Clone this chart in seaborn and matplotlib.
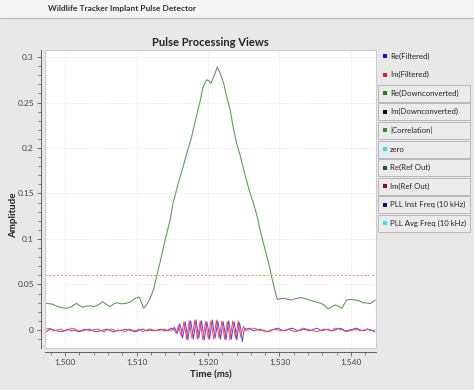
import numpy as np
import pandas as pd
import matplotlib.pyplot as plt
import matplotlib.patches as mpatches
from matplotlib.ticker import MultipleLocator, FuncFormatter
import seaborn as sns

# ---- data ----
# |Correlation| (green)
corr_t = [1497.4, 1498.2, 1499.0, 1499.6, 1500.2, 1500.9, 1501.6, 1502.0, 1502.5, 1503.0,
          1503.5, 1504.1, 1504.6, 1505.3, 1505.8, 1506.3, 1506.8, 1507.2, 1507.9, 1508.6,
          1509.2, 1509.8, 1510.4, 1511.0, 1511.5, 1511.9, 1512.4, 1512.8, 1513.4, 1514.0,
          1514.7, 1515.1, 1515.6, 1516.0, 1516.5, 1517.1, 1517.7, 1518.2, 1518.6, 1519.0,
          1519.3, 1519.8, 1520.1, 1520.4, 1520.9, 1521.3, 1521.7, 1522.2, 1522.6, 1523.1,
          1523.5, 1524.0, 1524.5, 1524.9, 1525.4, 1525.9, 1526.4, 1526.9, 1527.4, 1528.0,
          1528.5, 1528.9, 1529.3, 1529.7, 1530.2, 1530.8, 1531.2, 1531.7, 1532.3, 1532.9,
          1533.4, 1533.8, 1534.4, 1535.0, 1535.5, 1535.9, 1536.4, 1536.8, 1537.3, 1537.8,
          1538.3, 1538.7, 1539.1, 1539.4, 1540.0, 1540.6, 1541.2, 1541.7, 1542.2, 1542.7,
          1543.4]
corr_v = [0.0293, 0.0285, 0.0256, 0.0245, 0.0238, 0.0255, 0.0293, 0.0270, 0.0250, 0.0262,
          0.0264, 0.0258, 0.0275, 0.0310, 0.0280, 0.0256, 0.0285, 0.0300, 0.0288, 0.0293,
          0.0310, 0.0348, 0.0360, 0.0238, 0.0290, 0.0348, 0.0450, 0.0586, 0.0780, 0.0990,
          0.1210, 0.1390, 0.1540, 0.1660, 0.1790, 0.1960, 0.2120, 0.2290, 0.2420, 0.2550,
          0.2670, 0.2750, 0.2740, 0.2710, 0.2800, 0.2890, 0.2820, 0.2710, 0.2570, 0.2420,
          0.2240, 0.2050, 0.1920, 0.1790, 0.1640, 0.1500, 0.1380, 0.1240, 0.1060, 0.0880,
          0.0730, 0.0586, 0.0450, 0.0337, 0.0345, 0.0348, 0.0335, 0.0330, 0.0345, 0.0355,
          0.0350, 0.0340, 0.0325, 0.0310, 0.0300, 0.0290, 0.0265, 0.0230, 0.0255, 0.0275,
          0.0260, 0.0238, 0.0290, 0.0330, 0.0335, 0.0330, 0.0318, 0.0300, 0.0296, 0.0290,
          0.0330]
threshold = 0.06

# Re / Im of the filtered signal: quiet before, burst, quiet after
t_pre = np.arange(1497.4, 1515.0, 0.5)
t_pulse = np.arange(1515.1, 1525.4, 0.19)
t_post = np.arange(1525.8, 1543.6, 0.5)

re_pre = [-0.002, 0.001, 0.000, -0.001, -0.002, -0.001, 0.001, -0.001, 0.000, -0.002,
          -0.001, 0.000, 0.001, -0.001, -0.002, -0.001, 0.000, 0.001, -0.001, -0.002,
          0.000, -0.001, 0.001, 0.000, -0.001, -0.002, 0.000, 0.001, -0.001, 0.000,
          -0.001, 0.000, 0.001, -0.001, 0.000, 0.002]
im_pre = [0.001, 0.002, -0.001, 0.000, 0.001, -0.001, 0.000, 0.002, 0.001, -0.001,
          0.000, 0.001, -0.001, 0.000, 0.001, 0.000, -0.002, 0.000, 0.001, 0.000,
          -0.001, 0.000, -0.002, 0.001, 0.000, -0.001, 0.001, -0.002, 0.000, 0.001,
          0.000, -0.001, 0.000, 0.001, -0.001, 0.000]
re_pulse = [0.000, 0.003, 0.000, -0.004, 0.000, 0.007, 0.001, -0.009, -0.001, 0.009,
            0.000, -0.011, 0.000, 0.010, 0.001, -0.010, 0.000, 0.011, 0.000, -0.009,
            0.001, 0.010, 0.000, -0.011, -0.001, 0.009, 0.000, -0.010, 0.001, 0.011,
            0.000, -0.009, 0.000, 0.010, 0.001, -0.010, 0.000, 0.009, 0.000, -0.011,
            0.000, 0.010, 0.001, -0.010, 0.000, 0.009, 0.000, -0.011, 0.000, 0.008,
            0.000, -0.013, -0.003, 0.002, 0.001]
im_pulse = [0.002, 0.000, -0.003, 0.000, 0.005, 0.000, -0.007, 0.000, 0.009, 0.001,
            -0.010, 0.000, 0.010, 0.000, -0.009, 0.000, 0.011, 0.001, -0.010, 0.000,
            0.010, 0.000, -0.011, 0.000, 0.009, 0.000, -0.010, 0.001, 0.010, 0.000,
            -0.010, 0.000, 0.011, 0.000, -0.009, 0.000, 0.010, 0.001, -0.010, 0.000,
            0.009, 0.000, -0.011, 0.000, 0.010, 0.000, -0.009, 0.000, 0.010, 0.000,
            -0.008, 0.000, 0.004, -0.001, 0.000]
re_post = [0.002, -0.001, 0.000, 0.001, -0.001, -0.002, 0.000, 0.001, 0.002, 0.000,
           -0.001, 0.001, 0.002, 0.000, -0.001, 0.001, 0.000, -0.001, 0.001, 0.002,
           -0.001, 0.000, 0.001, -0.001, 0.000, 0.002, 0.001, -0.001, 0.000, 0.001,
           0.002, 0.000, -0.001, 0.001, 0.000, -0.002]
im_post = [0.000, 0.002, 0.001, -0.001, 0.000, -0.002, -0.001, 0.001, 0.000, -0.001,
           0.000, 0.001, -0.001, -0.002, 0.000, 0.002, 0.001, 0.000, -0.001, -0.002,
           0.000, 0.001, 0.000, -0.001, 0.002, 0.001, 0.000, -0.002, -0.001, 0.000,
           0.001, -0.001, 0.000, 0.001, -0.001, 0.000]

legend_names = ['Re(Filtered)', 'Im(Filtered)', 'Re(Downconverted)', 'Im(Downconverted)',
                '|Correlation|', 'zero', 'Re(Ref Out)', 'Im(Ref Out)',
                'PLL Inst Freq (10 kHz)', 'PLL Avg Freq (10 kHz)']
legend_colors = ['#1010e0', '#e02020', '#208020', '#101010', '#2e8b2e', '#30e0f0',
                 '#186018', '#8b1010', '#10107a', '#30e0f0']
legend_boxed = [False, False, True, True, True, True, True, True, True, True]

# ---- build frames ----
filt = pd.DataFrame({
    'time': np.concatenate([t_pre, t_pulse, t_post]),
    're': re_pre + re_pulse + re_post,
    'im': im_pre + im_pulse + im_post,
})
corr = pd.DataFrame({'time': corr_t, 'value': corr_v})

# ---- plot ----
sns.set_style('white')
plt.rcParams['font.family'] = ['Lato', 'DejaVu Sans']

bg = '#e8e8e8'
fig = plt.figure(figsize=(4.74, 3.90), dpi=100, facecolor=bg)

# window title bar
fig.patches.append(mpatches.Rectangle((0, 372 / 390), 1, 18 / 390, transform=fig.transFigure,
                                      facecolor='#f4f4f4', edgecolor='none', zorder=0))
fig.lines.append(plt.Line2D([0, 1], [372 / 390, 372 / 390], transform=fig.transFigure,
                            color='#b8b8b8', lw=0.8))
fig.text(48 / 474, 381 / 390, 'Wildlife Tracker Implant Pulse Detector', fontsize=6,
         fontweight='bold', color='#333333', va='center', ha='left')

ax = fig.add_axes([45 / 474, 42 / 390, 331 / 474, 298 / 390])
ax.set_facecolor('white')

sns.lineplot(data=corr, x='time', y='value', ax=ax, color='#5aa055', lw=0.8)
sns.lineplot(data=filt, x='time', y='re', ax=ax, color='#4848ff', lw=0.7)
sns.lineplot(data=filt, x='time', y='im', ax=ax, color='#ff4848', lw=0.7)
ax.axhline(threshold, color='#f08a70', lw=0.7, ls=(0, (2, 2)))

ax.set_xlim(1497.2, 1543.5)
ax.set_ylim(-0.0198, 0.3077)
ax.xaxis.set_major_locator(MultipleLocator(10))
ax.xaxis.set_minor_locator(MultipleLocator(2))
ax.yaxis.set_major_locator(MultipleLocator(0.05))
ax.yaxis.set_minor_locator(MultipleLocator(0.01))
ax.xaxis.set_major_formatter(FuncFormatter(lambda v, p: f'{v:,.0f}'))
ax.yaxis.set_major_formatter(FuncFormatter(lambda v, p: f'{round(v, 2):g}'))
ax.grid(True, which='major', color='#e4e4e4', lw=0.6, ls=(0, (1, 1)))

# light frame around the data area
ax.add_patch(mpatches.Rectangle((0, 0), 1, 1, transform=ax.transAxes, fill=False,
                                edgecolor='#cccccc', lw=0.8, clip_on=False, zorder=5))
for side in ['top', 'right']:
    ax.spines[side].set_visible(False)
for side in ['left', 'bottom']:
    ax.spines[side].set_position(('outward', 3))
    ax.spines[side].set_color('#606060')
    ax.spines[side].set_linewidth(0.7)
ax.tick_params(which='major', direction='out', length=3, width=0.6, color='#606060',
               labelsize=6, labelcolor='#444444', left=True, bottom=True, pad=2)
ax.tick_params(which='minor', direction='out', length=2, width=0.5, color='#606060',
               left=True, bottom=True)

ax.set_xlabel('Time (ms)', fontsize=7, fontweight='bold', color='#222222', labelpad=3)
ax.set_ylabel('Amplitude', fontsize=7, fontweight='bold', color='#222222')
ax.yaxis.set_label_coords(-0.080, 0.446)
fig.text(210 / 474, 347 / 390, 'Pulse Processing Views', fontsize=8, fontweight='bold',
         color='#222222', ha='center', va='center')

# clickable-looking legend column on the right
for i, (name, col, boxed) in enumerate(zip(legend_names, legend_colors, legend_boxed)):
    yc = 56 + i * 18.6
    if boxed:
        fig.patches.append(mpatches.Rectangle((378 / 474, (390 - yc - 8.5) / 390), 92 / 474,
                                              17 / 390, transform=fig.transFigure,
                                              facecolor='#ebebeb', edgecolor='#b0b0b0',
                                              lw=0.6, zorder=1))
    fig.patches.append(mpatches.Rectangle((383 / 474, (390 - yc - 2) / 390), 4 / 474, 4 / 390,
                                          transform=fig.transFigure, facecolor=col,
                                          edgecolor='none', zorder=2))
    fig.text(390 / 474, (390 - yc) / 390, name, fontsize=5.6, color='#222222',
             va='center', ha='left', zorder=3)

fig.savefig('out.png', dpi=100, facecolor=bg)
